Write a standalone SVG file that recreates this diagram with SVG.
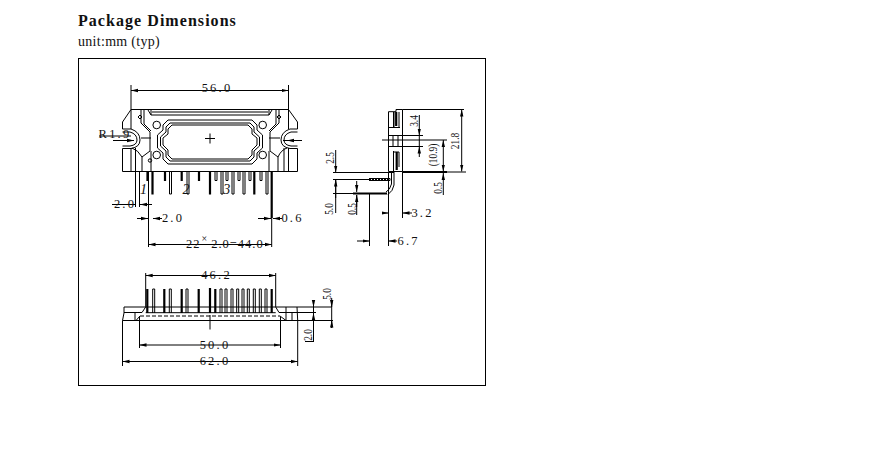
<svg xmlns="http://www.w3.org/2000/svg" width="879" height="449" viewBox="0 0 879 449">
<style>
.l{fill:none;stroke:#000;stroke-width:1}
.t{stroke-width:2.2}
.d{fill:none;stroke:#000;stroke-width:1;marker-start:url(#a);marker-end:url(#a)}
.o{fill:none;stroke:#000;stroke-width:1;marker-end:url(#a)}
text{font-family:"Liberation Serif","Times New Roman",serif;fill:#111}
.n{font-size:12.500px;letter-spacing:2.200px;text-anchor:middle}
.r{font-size:12px;text-anchor:middle}
.i{font-size:14px;font-style:italic;text-anchor:middle}
</style>
<defs>
<marker id="a" markerUnits="userSpaceOnUse" markerWidth="8" markerHeight="5" refX="7" refY="2.5" orient="auto-start-reverse"><path d="M0 .8L7 2.5L0 4.200Z" fill="#000"/></marker>
</defs>
<rect width="879" height="449" fill="#fff"/>
<text x="78" y="26" font-size="16" font-weight="bold" letter-spacing="1.05">Package Dimensions</text>
<text x="78" y="45.500" font-size="14" letter-spacing=".3">unit:mm (typ)</text>
<rect x="78.500" y="58.500" width="407" height="327" class="l"/>

<g id="top-view">
<path class="l" d="M131 109.500H288.500L297.500 122V129H290Q281 132 281 140Q281 147 290 148.500H297.500V171.500H122.500V148.500H131Q140 147 140 140Q140 132 131 129H122.500V122Z"/>
<path class="l" d="M122.500 132H130Q137 134 137 140Q137 145 130 146H122.500M297.500 132H291Q284 134 284 140Q284 145 291 146H297.500"/>
<path class="l" d="M131 129V110M288.500 129V110M131 148V171M288.500 148V171M135.500 148V171M284 148V171"/>
<path class="l" d="M141 109.500V123L150 132V151L142 157V171M279 109.500V123L270 132V151L278 157V171"/>
<path class="l" d="M144 110V124L151 131M276 110V124L269 131M132 148Q138 150 142 157M287 148Q281 150 278 157"/>
<path class="l" d="M151 110V115H269V110M148 110L151 115M272 110L269 115M152 112H268"/>
<path class="l" d="M151 151V171M269 151V171M141 138H151M269 138H280"/>
<path class="l" d="M168 120H252L257 125V130L262.500 135V148L257 153V159L252 164H168L163 159V153L157.500 148V135L163 130V125Z"/>
<path class="l" d="M170 123H250L254 127V132L259.500 137V146L254 151V157L250 161H170L166 157V151L160.500 146V137L166 132V127Z"/>
<path class="l" d="M172 125H248L252 129V134L257 138V145L252 150V155L248 159H172L168 155V150L163 145V138L168 134V129Z"/>
<circle class="l" cx="156.700" cy="125" r="3.800"/><circle class="l" cx="262.700" cy="125" r="3.800"/>
<circle class="l" cx="156.700" cy="155" r="3.800"/><circle class="l" cx="262.700" cy="155" r="3.800"/>
<circle class="l" cx="150" cy="160.500" r="1.700"/>
<path class="l" d="M140 115l2 2-2 2-2-2ZM279 115l2 2-2 2-2-2Z"/>
<path class="l" d="M205 138.500H215M210 133.500V143.500"/>
<path class="l" d="M135.500 172V207M139.500 172V207M148.500 172V247"/>
<path class="l t" d="M147.500 172V181M152.500 172V194.500M165 172V181M181.700 172V181M199 172V181M210 172V194.500M254.300 172V194.500M271.700 172V218"/>
<path class="l" d="M271.700 218V247"/>
<path class="l" d="M169.500 172V194H171.500V172M187 172V194H189V172M221 172V194H223V172M232 172V194H234V172M243 172V194H245V172M266 172V194H268V172"/>
<path class="l" d="M215 172V180.500H217V172M226 172V180.500H228V172M238 172V180.500H240V172M249 172V180.500H251V172M260 172V180.500H262V172"/>
</g>

<g id="side-view">
<path class="l" d="M396 109.500H402.500V171.500H388.500V111.700H396V109.500"/>
<path class="l" d="M393.500 112V128M393.500 151V171M394 112V127M389 127.500H400M389 135.500H395M389 146.500H395M393 135.500V146.500M398 135.500V146.500M393.500 152H399M399 152V167M399 112V127"/>
<path class="l t" d="M396.200 112V126M396.700 152V170"/>
<path class="l" d="M394 172V185Q393 191 388 194.500M391.500 172V184Q390 190 386 192"/>
<path class="l" d="M369 178.500H390V180.500H369"/>
<path class="l" stroke-width="2" stroke-dasharray="2 1" d="M369 179.500H390"/>
<path class="l t" d="M353 193.500H387"/>
<path class="l" d="M388.500 172V246M402.500 172V218M369.500 194V246"/>
</g>

<g id="bottom-view">
<path class="l" d="M124 313V307H145.700L142 312.500H124M275.700 307H331.700M275.700 307L279 312.500H316M122.500 320.500H333"/>
<path class="l" d="M124 313L122.500 320.500M297 307L297.700 320.500M135 313V320.500M286 307V320.500M292 313V320.500"/>
<path class="l" d="M145.700 307H275.700M145.700 312.700H275.700"/>
<path class="l" stroke-dasharray="4 2" d="M140 316H280"/>
<path class="l" d="M140 316L136 320.500M280 316L286 320.500"/>
<path class="l" d="M139.500 317V348M280.500 317V348M122.500 320.500V366M297.700 320.500V366M210 315V329.500"/>
<path class="l t" d="M147.300 289V313M164.300 289V313M181.700 289V313M198.700 289V313M210 288V313M215.300 289V313M271.700 289V313"/>
<path class="l" d="M152.700 313V289H154.700V313M169.300 313V289H171.300V313M186 313V289H188V313M220 313V289H222V313M225 313V289H227V313M231 313V289H233V313M236.700 313V289H238.700V313M242 313V289H244V313M247.300 313V289H249.300V313M253.300 313V289H255.300V313M259.300 313V289H261.300V313M265 313V289H267V313"/>
</g>

<g id="connectors">
<path class="d" d="M131 90.500H288.500"/>
<path class="l" d="M131 85V110M288.500 85V110"/>
<path class="d" d="M148.500 244.500H271.700"/>
<path class="l" d="M99 136H131"/>
<path class="o" d="M113 140.500H134"/>
<path class="l" d="M283 140.500H302"/>
<path class="o" d="M302 140.500H287"/>
<path class="l" d="M112 204.500H135.500"/>
<path class="o" d="M152 204.500H140"/>
<path class="o" d="M137 218.500H148"/><path class="o" d="M162 218.500H153"/>
<path class="o" d="M258 218.500H271"/><path class="o" d="M282 218.500H273"/>
<path class="d" d="M145.700 275.500H275.700"/>
<path class="l" d="M145.700 273V307M275.700 273V307"/>
<path class="d" d="M139.500 345H280.500"/>
<path class="d" d="M122.500 361.500H297.700"/>
<path class="l" d="M313.500 303V342M305 341.500H313.500"/>
<path class="o" d="M313.500 300V307"/><path class="o" d="M313.500 325V313"/>
<path class="l" d="M331.700 300V328"/>
<path class="o" d="M331.700 298V307"/><path class="o" d="M331.700 328V320.500"/>
<path class="d" d="M461.700 109.500V171.500"/>
<path class="l" d="M402.500 109.500H464M402.500 172H466"/>
<path class="d" d="M443.300 140V171.500"/>
<path class="l" d="M382 140H447"/>
<path class="l" d="M389 135.500H423M389 146.500H423"/>
<path class="o" d="M419.300 115V135.500"/><path class="o" d="M419.300 157V146.500"/><path class="l" d="M419.300 135.500V146.500"/>
<path class="o" d="M443.300 195V173"/>
<path class="l t" d="M402.500 172H447"/>
<path class="l" d="M333 172.500H394M333 179.500H369M333 193.500H353"/>
<path class="o" d="M335.700 150V172.500"/><path class="o" d="M335.700 198V179.500"/><path class="l" d="M335.700 179.500V213"/>
<path class="o" d="M356.700 181V192"/><path class="o" d="M356.700 207V195"/>
<path class="l" d="M356.700 195V215"/>
<path class="o" d="M382 213H388.500"/><path class="o" d="M412 213H402.500"/>
<path class="o" d="M357 241H369.500"/><path class="o" d="M397 241H388.500"/>
</g>

<g id="labels">
<text class="n" x="217" y="92">56.0</text>
<text class="n" x="115" y="138">R1.9</text>
<text class="n" x="125" y="208">2.0</text>
<text class="n" x="173" y="222">2.0</text>
<text class="n" x="292.500" y="222">0.6</text>
<text font-size="12.500" letter-spacing="1" y="248" x="186">22<tspan dx="1" dy="-6" font-size="10">×</tspan><tspan dx="3" dy="6">2.0=44.0</tspan></text>
<text class="i" x="143.500" y="194">1</text>
<text class="i" x="186" y="194">2</text>
<text class="i" x="226.700" y="194">3</text>
<text class="n" x="216.500" y="279">46.2</text>
<text class="n" x="215" y="348.500">50.0</text>
<text class="n" x="215" y="365">62.0</text>
<text class="n" x="422.500" y="217">3.2</text>
<text class="n" x="408.700" y="244.500">6.7</text>
<text class="r" transform="translate(334 158) rotate(-90) scale(.78 1)">2.5</text>
<text class="r" transform="translate(333 209) rotate(-90) scale(.78 1)">5.0</text>
<text class="r" transform="translate(355.500 209) rotate(-90) scale(.78 1)">0.5</text>
<text class="r" transform="translate(418 121) rotate(-90) scale(.78 1)">3.4</text>
<text class="r" transform="translate(437 155) rotate(-90) scale(.78 1)">(10.9)</text>
<text class="r" transform="translate(459.300 141) rotate(-90) scale(.78 1)">21.8</text>
<text class="r" transform="translate(441.700 188) rotate(-90) scale(.78 1)">0.5</text>
<text class="r" transform="translate(330.700 294) rotate(-90) scale(.78 1)">5.0</text>
<text class="r" transform="translate(311.700 335) rotate(-90) scale(.78 1)">2.0</text>
</g>
</svg>
